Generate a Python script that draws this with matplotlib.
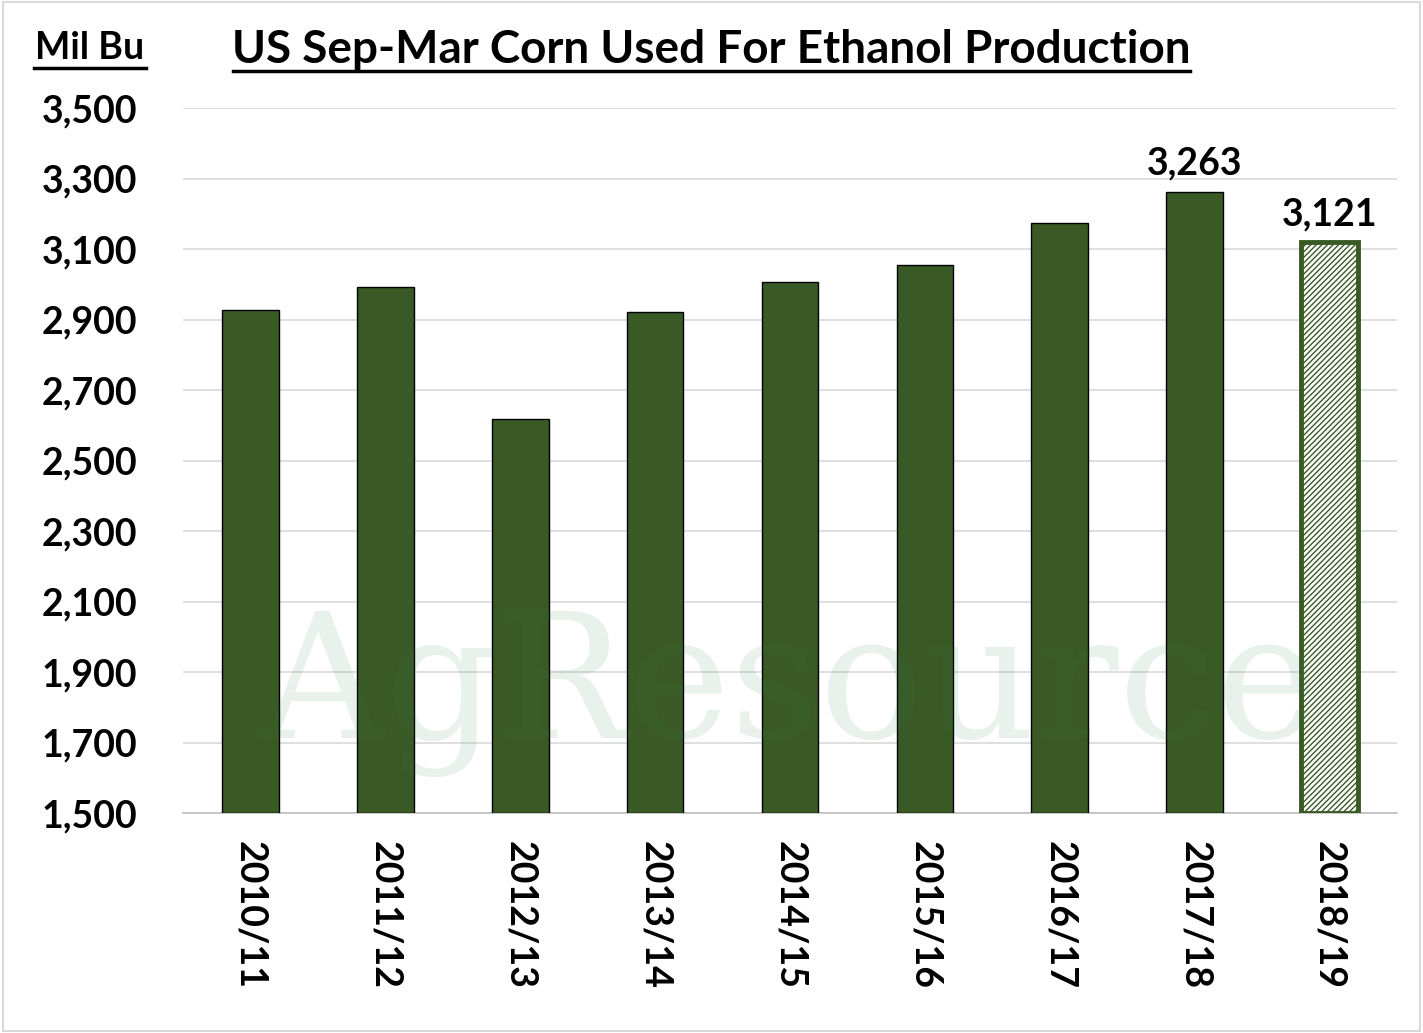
import matplotlib
matplotlib.use("Agg")
import matplotlib.pyplot as plt
from matplotlib.lines import Line2D
from matplotlib.patches import Rectangle

categories = ["2010/11","2011/12","2012/13","2013/14","2014/15","2015/16","2016/17","2017/18","2018/19"]
values = [2927, 2992, 2618, 2921, 3006, 3055, 3174, 3263, 3121]
yticks = [1500,1700,1900,2100,2300,2500,2700,2900,3100,3300,3500]

plt.rcParams["font.family"] = "Lato"
fig = plt.figure(figsize=(14.23,10.33), dpi=100)
ax = fig.add_axes([183/1423, 1-813/1033, 1214/1423, 705/1033])
green = "#3a5a25"
x = list(range(len(categories)))
for i, v in enumerate(values):
    if i == len(values)-1:
        ax.bar(i, v-1500, bottom=1500, width=0.42, color="white", edgecolor=green,
               hatch="//////", linewidth=3.5, zorder=3)
    else:
        ax.bar(i, v-1500, bottom=1500, width=0.42, color=green, edgecolor="black",
               linewidth=1, zorder=3)
for i in (7, 8):
    ax.text(i, values[i]+30, f"{values[i]:,}", ha="center", va="bottom",
            fontsize=27, fontweight="bold", zorder=4)
ax.set_ylim(1500, 3500)
ax.set_xlim(-0.5, len(categories)-0.5)
ax.set_yticks(yticks)
ax.set_yticklabels([f"{t:,}" for t in yticks], fontsize=27, fontweight="bold")
ax.set_xticks(x)
ax.set_xticklabels(categories, rotation=-90, fontsize=27, fontweight="bold")
ax.tick_params(axis="y", length=0, pad=33)
ax.tick_params(axis="x", length=0, pad=20)
ax.grid(axis="y", color="#d9d9d9", linewidth=1.2, zorder=0)
for s in ("top","right","left"):
    ax.spines[s].set_visible(False)
ax.spines["bottom"].set_color("#bfbfbf")
ax.spines["bottom"].set_linewidth(1.2)

# watermark
fig.text(0.555, 0.33, "AgResource", fontsize=125, color="#2e7d4f", alpha=0.1,
         ha="center", va="center", family="DejaVu Serif", zorder=0)

fig.text(711/1423, 1-50/1033, "US Sep-Mar Corn Used For Ethanol Production",
         ha="center", va="center", fontsize=33, fontweight="bold")
fig.add_artist(Line2D([233/1423, 1190/1423], [1-71/1033]*2, color="black", lw=2.5))
fig.text(90/1423, 1-48/1033, "Mil Bu", ha="center", va="center", fontsize=27, fontweight="bold")
fig.add_artist(Line2D([34/1423, 146/1423], [1-68/1033]*2, color="black", lw=2.5))
fig.add_artist(Rectangle((0.002,0.002),0.996,0.996, transform=fig.transFigure,
                         fill=False, edgecolor="#d9d9d9", lw=1.5))
fig.savefig("out.png", dpi=100)
